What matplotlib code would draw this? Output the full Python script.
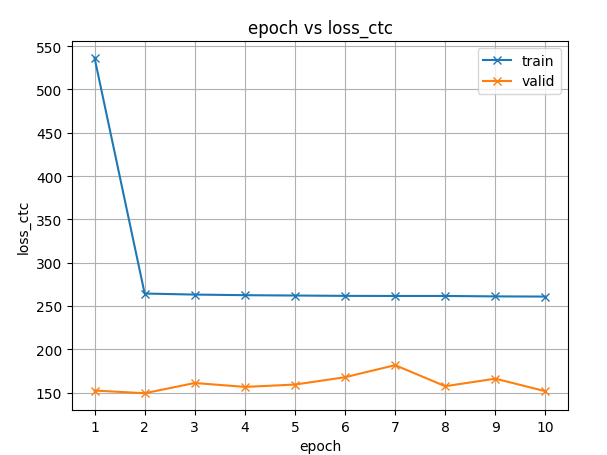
import matplotlib
matplotlib.use("Agg")
import matplotlib.pyplot as plt

epochs = [1, 2, 3, 4, 5, 6, 7, 8, 9, 10]
train = [536.5, 264.3, 263.1, 262.4, 262.0, 261.6, 261.5, 261.5, 261.0, 260.8]
valid = [152.3, 149.2, 161.0, 156.5, 159.2, 167.7, 181.6, 157.3, 166.0, 151.5]

W, H = 607, 456
fig, ax = plt.subplots(figsize=(W / 100, H / 100), dpi=100)
fig.subplots_adjust(left=72 / W, right=568 / W, top=1 - 42 / H, bottom=1 - 411 / H)
ax.plot(epochs, train, marker="x", label="train")
ax.plot(epochs, valid, marker="x", label="valid")
ax.set_xticks(epochs)
ax.set_xlabel("epoch")
ax.set_ylabel("loss_ctc")
ax.set_title("epoch vs loss_ctc")
ax.grid(True)
ax.legend()
fig.savefig("out.png", dpi=100)
